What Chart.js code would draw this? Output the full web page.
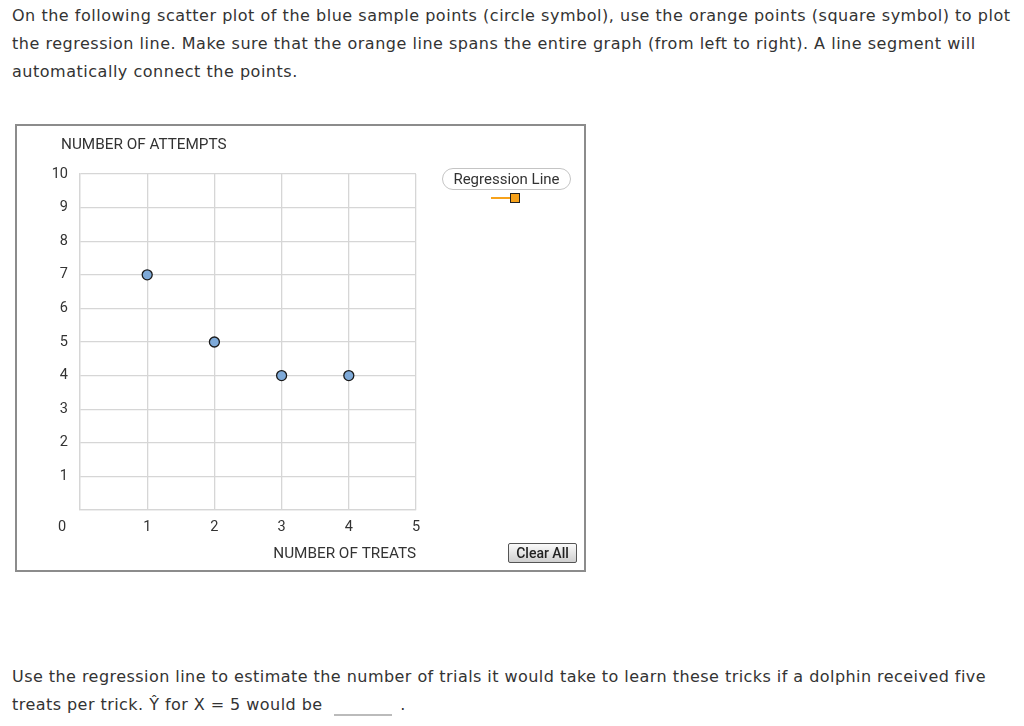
<!DOCTYPE html>
<html>
<head>
<meta charset="utf-8">
<script src="https://cdn.jsdelivr.net/npm/chart.js@4.4.0/dist/chart.umd.min.js"></script>
<style>
  body { margin: 0; background: #fff; font-family: "DejaVu Sans", Verdana, sans-serif; color: #333; }
  .q { position: absolute; left: 12px; font-size: 16px; line-height: 28px; white-space: nowrap; letter-spacing: 0.52px; }
  #box { position: absolute; left: 15px; top: 124px; width: 567px; height: 444px; border: 2px solid #8c8c8c; }
  #plot { position: absolute; left: 0; top: 0; }
  .pill { position: absolute; left: 425px; top: 42px; width: 127px; height: 20px; border: 1px solid #c4c4c4; border-radius: 11px;
    font: 15px Roboto, sans-serif; color: #333; text-align: center; line-height: 20px; }
  .mkline { position: absolute; left: 474px; top: 71px; width: 20px; height: 2px; background: #f7a21b; }
  .mksq { position: absolute; left: 493px; top: 67px; width: 8px; height: 8px; background: #f7a21b; border: 1px solid #222; }
  .btn { position: absolute; left: 491px; top: 417px; width: 67px; height: 18px; border: 1px solid #555; border-radius: 2px;
    background: linear-gradient(#fafafa, #cfcfcf); font: 500 14px Roboto, sans-serif; color: #222;
    text-align: center; line-height: 18px; }
  .blank { display: inline-block; width: 58px; border-bottom: 2px solid #bbb; margin: 0 8px 0 6px; vertical-align: -6px; }
</style>
</head>
<body>
<div class="q" style="top:2px">On the following scatter plot of the blue sample points (circle symbol), use the orange points (square symbol) to plot<br>the regression line. Make sure that the orange line spans the entire graph (from left to right). A line segment will<br>automatically connect the points.</div>

<div id="box">
  <canvas id="plot" width="567" height="444"></canvas>
  <div class="pill">Regression Line</div>
  <div class="mkline"></div>
  <div class="mksq"></div>
  <div class="btn">Clear All</div>
</div>

<div class="q" style="top:663px; letter-spacing: 0.45px">Use the regression line to estimate the number of trials it would take to learn these tricks if a dolphin received five<br>treats per trick. Ŷ for X = 5 would be <span class="blank"></span>.</div>

<script>
// sample points
const treats = [1, 2, 3, 4];
const attempts = [7, 5, 4, 4];
const regression = [];   // nothing plotted yet

const xTitle = 'NUMBER OF TREATS';
const yTitle = 'NUMBER OF ATTEMPTS';
const axisFont = { family: 'Roboto, sans-serif', size: 14.5 };
const titleFont = { family: 'Roboto, sans-serif', size: 15.3 };

// draws the y title top-left and the shared "0" in the corner
const cornerLabels = {
  id: 'cornerLabels',
  afterDraw(chart) {
    const { ctx, chartArea } = chart;
    ctx.save();
    ctx.fillStyle = '#333';
    ctx.textBaseline = 'middle';
    ctx.textAlign = 'left';
    ctx.font = titleFont.size + 'px ' + titleFont.family;
    ctx.fillText(yTitle, chartArea.left - 19, chartArea.top - 29);
    ctx.textAlign = 'center';
    ctx.font = axisFont.size + 'px ' + axisFont.family;
    ctx.fillText('0', chartArea.left - 18, chartArea.bottom + 17);
    ctx.restore();
  }
};

new Chart('plot', {
  type: 'scatter',
  data: {
    datasets: [{
      label: 'Sample',
      data: treats.map((x, i) => ({ x: x, y: attempts[i] })),
      backgroundColor: '#7eaad9',
      borderColor: '#1a1a1a',
      borderWidth: 1.3,
      pointRadius: 5,
      pointHoverRadius: 5
    },
    {
      label: 'Regression Line',
      data: regression,
      showLine: true,
      borderColor: '#f7a21b',
      backgroundColor: '#f7a21b',
      pointStyle: 'rect'
    }]
  },
  options: {
    responsive: false,
    animation: false,
    layout: { padding: { left: 0, top: 48, right: 168, bottom: 0 } },
    plugins: {
      legend: { display: false },
      tooltip: { enabled: false }
    },
    scales: {
      x: {
        type: 'linear',
        min: 0,
        max: 5,
        afterFit: s => { s.height = 60; },
        grid: { color: '#d6d6d6', lineWidth: 1.3, drawTicks: false },
        border: { color: '#d6d6d6', width: 1.3 },
        ticks: {
          stepSize: 1,
          padding: 9,
          color: '#333',
          font: axisFont,
          callback: v => v === 0 ? '' : v
        },
        title: {
          display: true,
          text: xTitle,
          align: 'end',
          color: '#333',
          font: titleFont,
          padding: { top: 0, bottom: 7 }
        }
      },
      y: {
        min: 0,
        max: 10,
        afterFit: s => { s.width = 63; },
        grid: { color: '#d6d6d6', lineWidth: 1.3, drawTicks: false },
        border: { color: '#d6d6d6', width: 1.3 },
        ticks: {
          stepSize: 1,
          padding: 12,
          color: '#333',
          font: axisFont,
          callback: v => v === 0 ? '' : v
        }
      }
    }
  },
  plugins: [cornerLabels]
});
</script>
</body>
</html>
